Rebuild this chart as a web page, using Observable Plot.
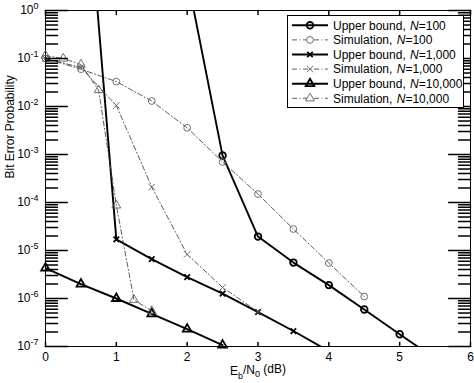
<!DOCTYPE html>
<html>
<head>
<meta charset="utf-8">
<script src="https://cdn.jsdelivr.net/npm/d3@7"></script>
<script src="https://cdn.jsdelivr.net/npm/@observablehq/plot@0.6"></script>
<style>
  html, body { margin: 0; padding: 0; background: white; }
  #chart { position: relative; width: 474px; height: 383px; }
</style>
</head>
<body>
<div id="chart"></div>
<script>
// ---- Data ----
const xTicks = [0, 1, 2, 3, 4, 5, 6];
const yTicks = [1e-7, 1e-6, 1e-5, 1e-4, 1e-3, 1e-2, 1e-1, 1];

const ub100X = [2, 2.5, 3, 3.5, 4, 4.5, 5, 5.5];
const ub100Y = [5, 9.5e-4, 1.95e-5, 5.6e-6, 1.9e-6, 5.9e-7, 1.8e-7, 5.6e-8];

const sim100X = [0, 0.5, 1, 1.5, 2, 2.5, 3, 3.5, 4, 4.5];
const sim100Y = [0.1, 0.06, 0.033, 0.013, 0.0036, 7e-4, 1.5e-4, 2.8e-5, 5.5e-6, 1.1e-6];

const ub1000X = [0.5, 1, 1.5, 2, 2.5, 3, 3.5, 4];
const ub1000Y = [1.6e4, 1.7e-5, 6.6e-6, 2.8e-6, 1.26e-6, 5.2e-7, 2.1e-7, 8e-8];

const sim1000X = [0, 0.5, 1, 1.5, 2, 2.5, 3];
const sim1000Y = [0.1, 0.065, 0.0105, 2.1e-4, 8.3e-6, 1.7e-6, 5.3e-7];

const ub10000X = [0, 0.5, 1, 1.5, 2, 2.5];
const ub10000Y = [4.3e-6, 2.0e-6, 1.0e-6, 4.8e-7, 2.3e-7, 1.07e-7];

const sim10000X = [0, 0.25, 0.5, 0.75, 1, 1.25, 1.5];
const sim10000Y = [0.115, 0.1, 0.075, 0.022, 8.7e-5, 9.4e-7, 5.5e-7];

const legendNames = ["Upper bound,", "Simulation,", "Upper bound,", "Simulation,", "Upper bound,", "Simulation,"];
const legendN = ["100", "100", "1,000", "1,000", "10,000", "10,000"];

const xLabelText = "Eb/N0 (dB)";
const yLabelText = "Bit Error Probability";

// ---- Styles ----
const UB = {stroke: "black", strokeWidth: 1.9, dash: null, markerStroke: 1.8, markerColor: "black"};
const SIM = {stroke: "#4a4a4a", strokeWidth: 0.9, dash: "5,2.5,1,2.5", markerStroke: 0.9, markerColor: "#606060"};

const series = [
  {key: "ub100", xs: ub100X, ys: ub100Y, style: UB, symbol: "circle", r: 3.3},
  {key: "sim100", xs: sim100X, ys: sim100Y, style: SIM, symbol: "circle", r: 3.4},
  {key: "ub1000", xs: ub1000X, ys: ub1000Y, style: UB, symbol: "times", r: 2.6},
  {key: "sim1000", xs: sim1000X, ys: sim1000Y, style: SIM, symbol: "times", r: 3},
  {key: "ub10000", xs: ub10000X, ys: ub10000Y, style: UB, symbol: "triangle", r: 3.2},
  {key: "sim10000", xs: sim10000X, ys: sim10000Y, style: SIM, symbol: "triangle", r: 3.3}
];

const yDomain = [1e-7, 1];
const rowsOf = s => s.xs.map((x, i) => ({x, y: s.ys[i]}));

const tickShape = {draw(context, l) { context.moveTo(0, 0); context.lineTo(0, -l); }};
const yMinor = d3.scaleLog().domain(yDomain).ticks();

const marks = [];
for (const s of series) {
  const rows = rowsOf(s);
  marks.push(Plot.line(rows, {
    x: "x", y: "y", stroke: s.style.stroke, strokeWidth: s.style.strokeWidth,
    strokeDasharray: s.style.dash, clip: true
  }));
  marks.push(Plot.dot(rows.filter(d => d.y >= yDomain[0] * 0.95 && d.y <= yDomain[1]), {
    x: "x", y: "y", symbol: s.symbol, r: s.r, fill: "none",
    stroke: s.style.markerColor, strokeWidth: s.style.markerStroke
  }));
}

const FONT = "'Liberation Sans', Arial, Helvetica, sans-serif";

const plot = Plot.plot({
  width: 474, height: 383,
  marginLeft: 45, marginRight: 4, marginTop: 10, marginBottom: 37,
  style: {fontFamily: FONT, fontSize: "12px", background: "white", color: "black"},
  x: {domain: [0, 6]},
  y: {type: "log", domain: yDomain},
  marks: [
    Plot.frame({stroke: "black", strokeWidth: 1}),
    ...marks,
    // inward ticks
    Plot.vector(xTicks, {x: d => d, frameAnchor: "bottom", length: 4, rotate: 0, anchor: "start", shape: tickShape, stroke: "black"}),
    Plot.vector(xTicks, {x: d => d, frameAnchor: "top", length: 4, rotate: 180, anchor: "start", shape: tickShape, stroke: "black"}),
    Plot.vector(yMinor, {y: d => d, frameAnchor: "left", length: d => yTicks.includes(d) ? 4 : 2.2, rotate: 90, anchor: "start", shape: tickShape, stroke: "black"}),
    Plot.vector(yMinor, {y: d => d, frameAnchor: "right", length: d => yTicks.includes(d) ? 4 : 2.2, rotate: -90, anchor: "start", shape: tickShape, stroke: "black"}),
    Plot.axisX({ticks: xTicks, tickSize: 0, tickPadding: 6, label: null, tickFormat: d => String(d)}),
    Plot.axisY({ticks: yTicks, tickSize: 0, tickPadding: 7, label: null, tickFormat: d => String(Math.round(Math.log10(d)))}),
    Plot.text([xLabelText], {text: d => d, frameAnchor: "bottom", dy: 25, lineAnchor: "middle", fontSize: 12}),
    Plot.text([yLabelText], {text: d => d, frameAnchor: "left", dx: -35, rotate: -90, fontSize: 12})
  ]
});

document.getElementById("chart").appendChild(plot);
const svg = d3.select(plot);

// superscript exponents on y tick labels
svg.selectAll('g[aria-label="y-axis tick label"] text').each(function() {
  const e = this.textContent;
  const t = d3.select(this);
  t.text("10");
  t.append("tspan").attr("dy", "-0.55em").attr("font-size", "9px").text(e);
});

// subscripts in x label
svg.selectAll("text").filter(function() { return this.textContent === xLabelText; }).each(function() {
  const t = d3.select(this);
  t.text("");
  t.append("tspan").text("E");
  t.append("tspan").attr("dy", "0.35em").attr("font-size", "9px").text("b");
  t.append("tspan").attr("dy", "-0.35em").text("/N");
  t.append("tspan").attr("dy", "0.35em").attr("font-size", "9px").text("0");
  t.append("tspan").attr("dy", "-0.35em").text(" (dB)");
});

// legend (inside the axes, top right)
const lg = svg.append("g").attr("font-family", FONT).attr("font-size", "12px").attr("text-anchor", "start");
const L = {x: 287, y: 15, w: 176, h: 92, row: 14.6, first: 25.3, lx0: 292, lx1: 328, tx: 333};
lg.append("rect").attr("x", L.x + 0.5).attr("y", L.y + 0.5).attr("width", L.w).attr("height", L.h)
  .attr("fill", "white").attr("stroke", "black").attr("stroke-width", 1);
series.forEach((s, i) => {
  const cy = L.first + i * L.row;
  lg.append("line").attr("x1", L.lx0).attr("x2", L.lx1).attr("y1", cy).attr("y2", cy)
    .attr("stroke", s.style.stroke).attr("stroke-width", s.style.strokeWidth)
    .attr("stroke-dasharray", s.style.dash);
  const symType = {circle: d3.symbolCircle, times: d3.symbolTimes, triangle: d3.symbolTriangle}[s.symbol];
  lg.append("path").attr("transform", `translate(${(L.lx0 + L.lx1) / 2},${cy})`)
    .attr("d", d3.symbol(symType, Math.PI * s.r * s.r)())
    .attr("fill", s.style.dash ? "white" : "none").attr("stroke", s.style.markerColor).attr("stroke-width", s.style.markerStroke);
  const tx = lg.append("text").attr("x", L.tx).attr("y", cy).attr("dy", "0.36em").attr("fill", "black").attr("text-anchor", "start");
  tx.append("tspan").text(legendNames[i] + " ");
  tx.append("tspan").attr("dx", 1).attr("font-style", "italic").text("N");
  tx.append("tspan").text("=" + legendN[i]);
});
</script>
</body>
</html>
